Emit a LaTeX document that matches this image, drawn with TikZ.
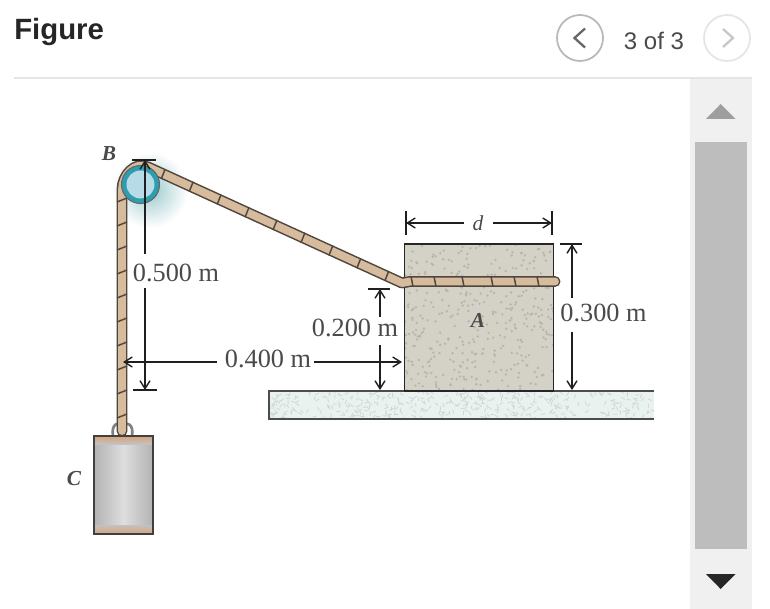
\documentclass[tikz,border=0pt]{standalone}
\usepackage{fontspec}
\setmainfont{Liberation Serif}
\newfontfamily\uifont{Liberation Sans}
\usetikzlibrary{arrows.meta,calc}
\definecolor{ink}{HTML}{1F1F1F}
\definecolor{ropefill}{HTML}{D6BC9C}
\definecolor{ropeedge}{HTML}{50463E}
\definecolor{blockfill}{HTML}{D4D1C7}
\definecolor{groundfill}{HTML}{E9F2EF}
\definecolor{labelgray}{HTML}{4A4A4A}
\definecolor{copper}{HTML}{D6A680}
\definecolor{pulleyring}{HTML}{2F9DB0}
\definecolor{pulleyhub}{HTML}{B7DCE7}
\definecolor{glow}{HTML}{9CC9CC}
\tikzset{
  x=0.75pt,y=-0.75pt,
  dim/.style={draw=ink,line width=1.05pt,-{Straight Barb[length=6pt,width=7.5pt]}},
  tickline/.style={draw=ink,line width=1.15pt},
  dimtext/.style={font=\fontsize{19.7}{20}\selectfont,text=labelgray,inner sep=0pt},
  vartext/.style={font=\fontsize{16}{18}\selectfont\itshape\bfseries,text=labelgray,inner sep=0pt},
  ropemark/.style={draw=ropeedge,line width=1.1pt},
  navtext/.style={font=\uifont\fontsize{18}{20}\selectfont,text=labelgray,inner sep=0pt},
}
\begin{document}
\begin{tikzpicture}
\useasboundingbox (0,0) rectangle (770,609);
\fill[white] (0,0) rectangle (770,609);
% header
\node[anchor=west,inner sep=0pt,font=\uifont\bfseries\fontsize{22}{24}\selectfont,text=black!85] (title) at (14,32) {Figure};
\node[navtext] (pageno) at (654,41) {3 of 3};
\node[circle,draw=black!28,line width=1.3pt,minimum size=34.5pt,inner sep=0pt] (prevbtn) at (580,38) {};
\node[circle,draw=black!10,line width=1.3pt,minimum size=34.5pt,inner sep=0pt] (nextbtn) at (727,38) {};
\draw[draw=black!60,line width=1.7pt] (585,28.5) -- (574.5,38) -- (585,47.5);
\draw[draw=black!22,line width=1.7pt] (723,29) -- (733,38) -- (723,47);
\draw[draw=black!10,line width=1pt] (14,78) -- (752,78);
% scrollbar
\fill[black!6] (690,79) rectangle (752,609);
\fill[black!26] (694.5,142) rectangle (747,548.5);
\fill[black!38] (706,119) -- (735.5,119) -- (720.7,104) -- cycle;
\fill[black!85] (706,574) -- (735.5,574) -- (720.7,589) -- cycle;
% ground
\fill[groundfill] (269,391) rectangle (654,419);
\begin{scope}
\clip (269,391) rectangle (654,419);
\pgfmathsetseed{11}
\foreach \i in {1,...,420}{
  \pgfmathsetmacro{\px}{269+rnd*385}
  \pgfmathsetmacro{\py}{391+rnd*28}
  \pgfmathsetmacro{\ang}{rnd*180}
  \draw[draw=black!11!groundfill,line width=0.6pt] (\px,\py) -- ++(\ang:4);
}
\end{scope}
\draw[draw=black!70,line width=1.1pt] (654,391) -- (269,391) -- (269,419) -- (654,419);
% block A
\fill[blockfill] (404.5,244) rectangle (553.5,391);
\begin{scope}
\clip (404.5,244) rectangle (553.5,391);
\pgfmathsetseed{5}
\foreach \i in {1,...,380}{
  \pgfmathsetmacro{\px}{404+rnd*150}
  \pgfmathsetmacro{\py}{244+rnd*147}
  \fill[black!14!blockfill] (\px,\py) circle (1.3);
}
\end{scope}
\node[draw=black!85,line width=1.2pt,minimum width=111.75pt,minimum height=110.25pt,inner sep=0pt] (blockA) at (479,317.5) {};
\node[vartext] (labelA) at (478,320) {A};
% weight ring, under the rope
\draw[draw=black!50,line width=2pt] (113,436) .. controls (111,424) and (118,422) .. (122,424) .. controls (127,422) and (134,424) .. (132,436);
% glow and rope
\shade[inner color=glow,outer color=white,draw=none] (150,190) circle (38);
\coordinate (r0) at (122,431);
\coordinate (r1) at (122,190);
\coordinate (r2) at (148,167);
\coordinate (r3) at (402,283);
\coordinate (r4) at (410,281.5);
\coordinate (r5) at (555,281.5);
\draw[draw=ropeedge,line width=8.2pt,line join=round,line cap=round]
  (r0) -- (r1) .. controls (122,175) and (135,161) .. (r2) -- (r3) -- (r4) -- (r5);
\draw[draw=ropefill,line width=5.9pt,line join=round,line cap=round]
  (r0) -- (r1) .. controls (122,175) and (135,161) .. (r2) -- (r3) -- (r4) -- (r5);
\foreach \ty in {416,392,368,344,320,296,272,248,224,200}{
  \draw[ropemark] (117,\ty+2) -- (127,\ty-2);
}
\foreach \t in {0.06,0.17,0.28,0.39,0.50,0.61,0.72,0.83,0.94}{
  \draw[ropemark] ($(r2)!\t!(r3)+(-2,5)$) -- ($(r2)!\t!(r3)+(2,-5)$);
}
\foreach \tx in {412,435,463,492,515,538}{
  \draw[ropemark] (\tx+1,286.5) -- (\tx-1,276.5);
}
% pulley
\node[circle,draw=black!60,fill=pulleyring,line width=0.8pt,minimum size=28.5pt,inner sep=0pt] (pulleyB) at (140.5,184.5) {};
\node[circle,fill=pulleyhub,draw=none,minimum size=21pt,inner sep=0pt] (hubB) at (140.5,184.5) {};
% weight C
\shade[left color=black!30,right color=black!30,middle color=black!13] (94,436) rectangle (153,534);
\shade[top color=copper,bottom color=black!24,draw=none] (94,437) rectangle (153,444);
\shade[top color=black!24,bottom color=copper,draw=none] (94,525) rectangle (153,533);
\node[draw=black!75,line width=1.1pt,minimum width=44.25pt,minimum height=73.5pt,inner sep=0pt] (weightC) at (123.5,485) {};
\node[vartext] (labelC) at (74,479) {C};
\node[vartext] (labelB) at (109,154) {B};
% d dimension
\node[vartext,font=\fontsize{16}{18}\selectfont\itshape] (labelD) at (478,223) {d};
\coordinate (dl) at (406,223);
\coordinate (dr) at (552,223);
\draw[tickline] (406,211) -- (406,235);
\draw[tickline] (552,211) -- (552,235);
\draw[dim] (464,223) -- (dl);
\draw[dim] (493,223) -- (dr);
% 0.300
\node[dimtext] (lab300) at (603.5,313) {0.300 m};
\draw[tickline] (560,244) -- (582,244);
\draw[dim] (572,298) -- (572,244);
\draw[dim] (572,332) -- (572,390);
% 0.200
\node[dimtext] (lab200) at (355,328) {0.200 m};
\draw[tickline] (368,289) -- (390,289);
\draw[dim] (380,317) -- (380,289);
\draw[dim] (380,345) -- (380,390);
% 0.400
\node[dimtext] (lab400) at (268,359) {0.400 m};
\draw[dim] (217,362) -- (123,362);
\draw[dim] (314,362) -- (402,362);
% 0.500
\node[dimtext] (lab500) at (176,273) {0.500 m};
\draw[tickline] (132,160) -- (156,160);
\draw[dim] (145,254) -- (145,160);
\draw[dim] (145,288) -- (145,390);
\draw[tickline] (133,390) -- (157,390);
\end{tikzpicture}
\end{document}
